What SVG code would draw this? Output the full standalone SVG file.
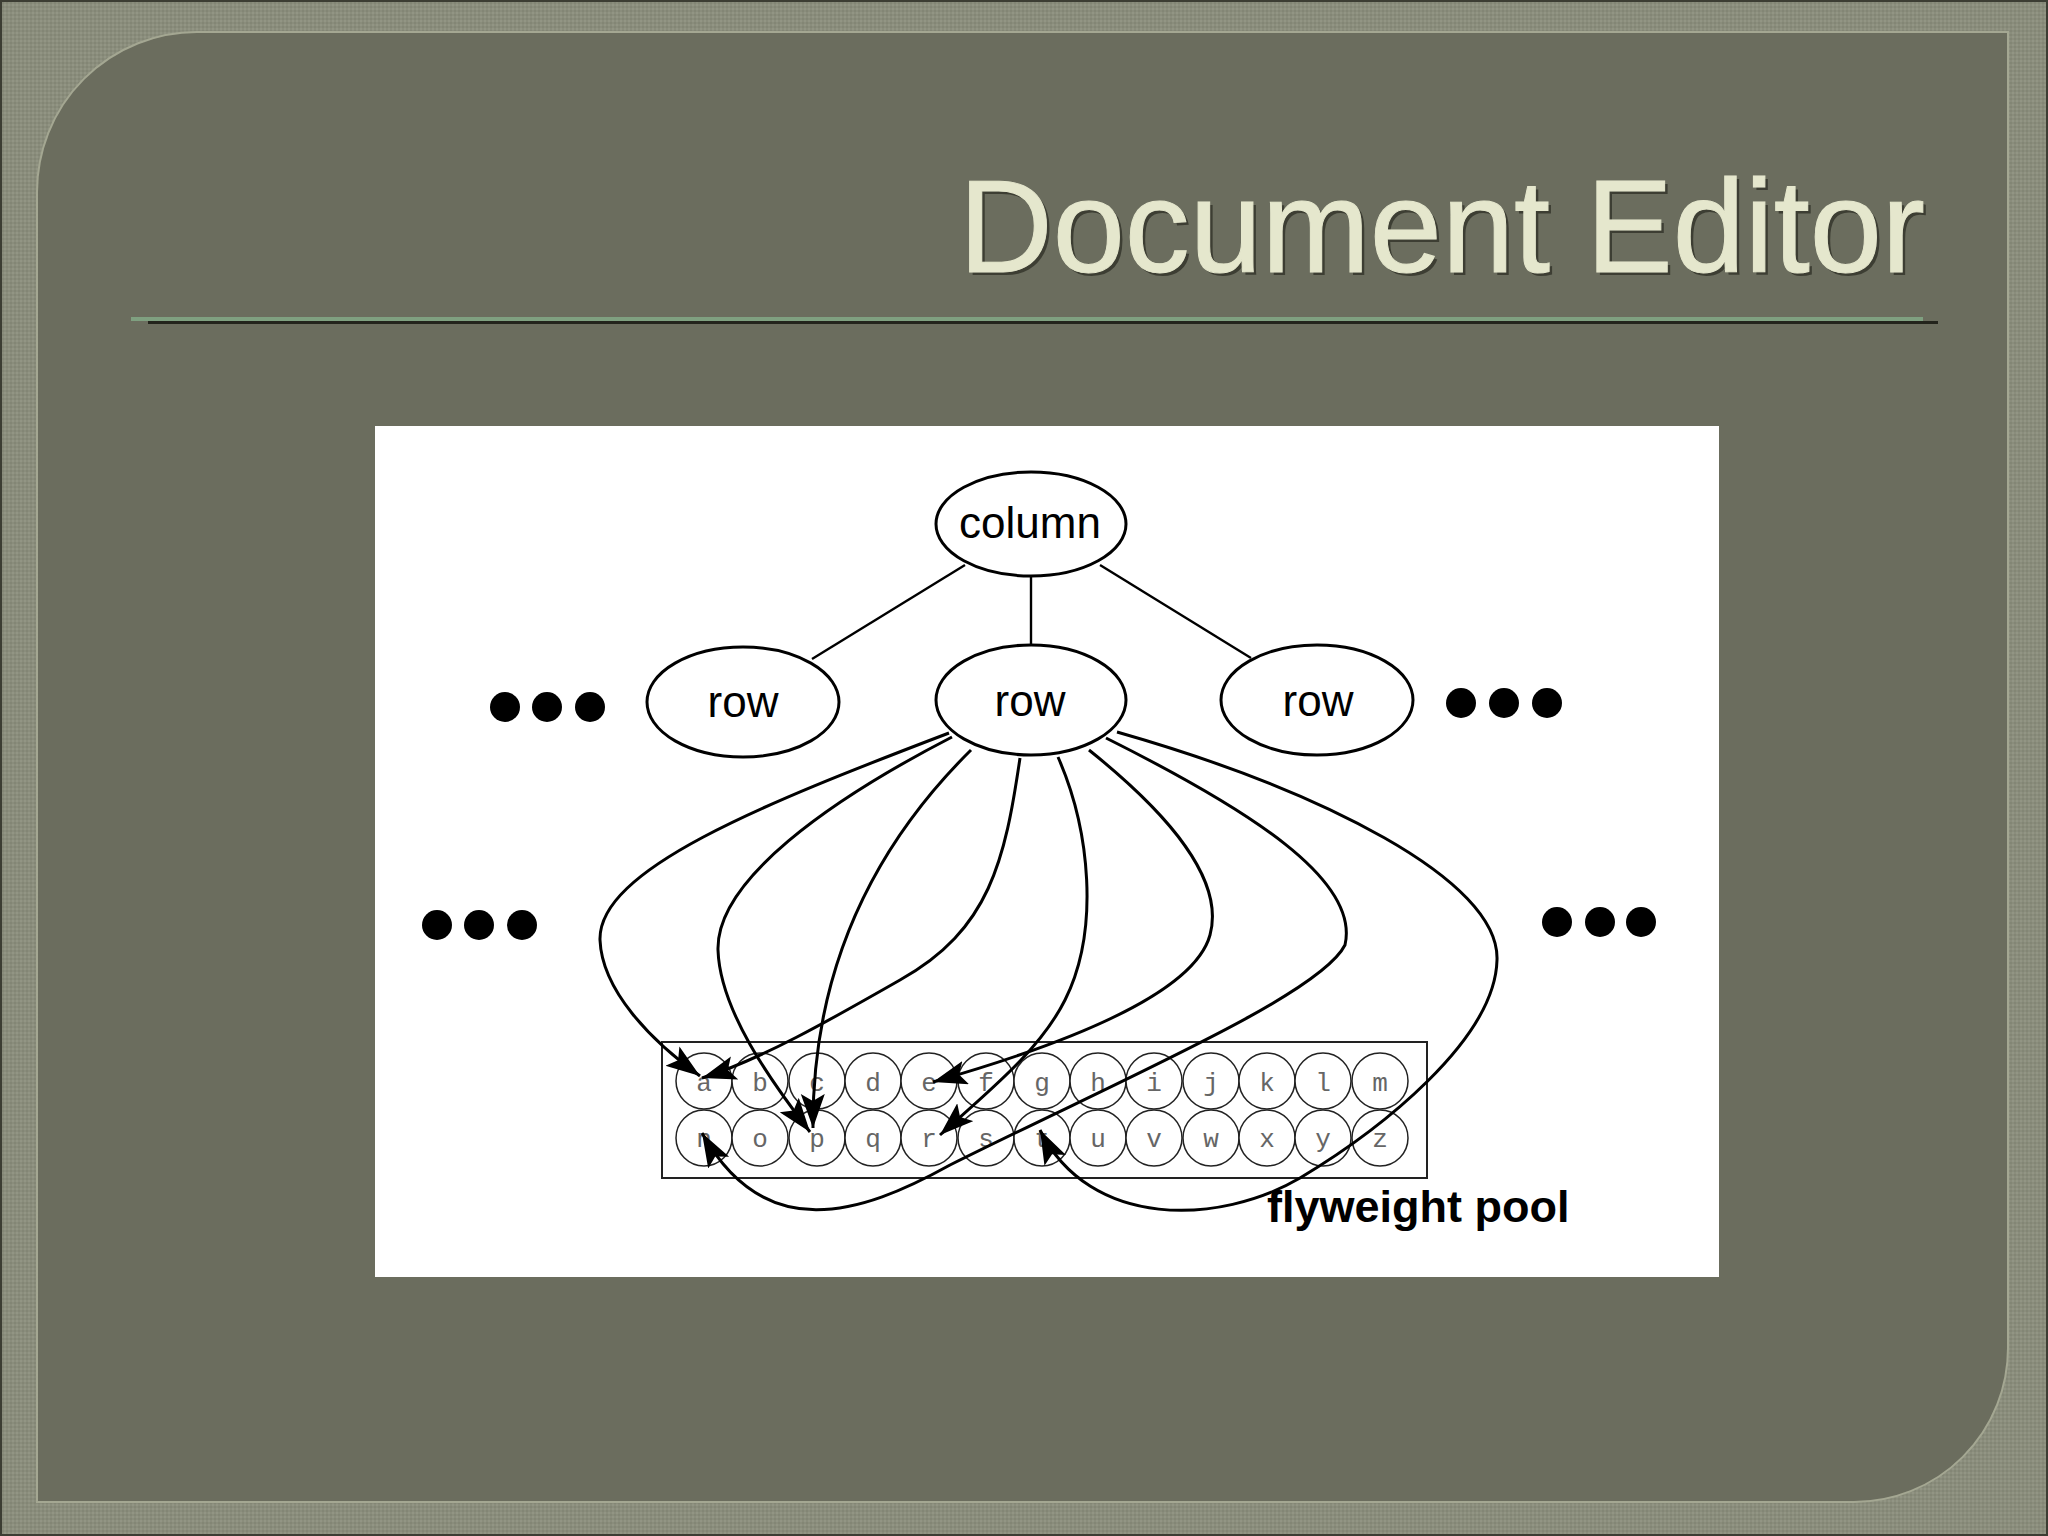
<svg xmlns="http://www.w3.org/2000/svg" width="2048" height="1536" viewBox="0 0 2048 1536">
  <defs>
    <pattern id="tex" x="0" y="0" width="4" height="4" patternUnits="userSpaceOnUse">
      <rect width="4" height="4" fill="#8a8d7c"/>
      <rect width="2" height="2" fill="#929584"/>
      <rect x="2" y="2" width="2" height="2" fill="#838675"/>
    </pattern>
    <marker id="arrow" markerUnits="userSpaceOnUse" markerWidth="38" markerHeight="28" refX="34" refY="12" orient="auto">
      <path d="M0,0 L34,12 L0,24 L7,12 Z" fill="#000"/>
    </marker>
  </defs>
  <style>
    .node { fill: #fff; stroke: #000; stroke-width: 3; }
    .label { font-family: "Liberation Sans", Arial, sans-serif; font-size: 44px; fill: #000; text-anchor: middle; }
    .dot { fill: #000; }
    .edge { fill: none; stroke: #000; stroke-width: 2.4; }
    .curve { fill: none; stroke: #000; stroke-width: 3; marker-end: url(#arrow); }
    .cell { fill: #fff; stroke: #222; stroke-width: 1.5; }
    .glyph { font-family: "Liberation Mono", "Courier New", monospace; font-size: 26px; fill: #666; text-anchor: middle; }
    .title { font-family: "Liberation Sans", Arial, sans-serif; font-size: 131px; }
  </style>

  <!-- slide background -->
  <rect x="0" y="0" width="2048" height="1536" fill="url(#tex)"/>
  <rect x="1" y="1" width="2046" height="1534" fill="none" stroke="#3c3d33" stroke-width="2"/>
  <path d="M37,192 A160,160 0 0 1 197,32 L2008,32 L2008,1348 A154,154 0 0 1 1854,1502 L37,1502 Z" fill="#6b6d5e" stroke="#a4a792" stroke-width="2"/>

  <!-- title -->
  <g id="title">
    <text class="title" x="962" y="275" fill="#2e2f26" fill-opacity="0.75" textLength="966" lengthAdjust="spacingAndGlyphs">Document Editor</text>
    <text class="title" x="959" y="272" fill="#e5e7cd" stroke="#e5e7cd" stroke-width="1" textLength="966" lengthAdjust="spacingAndGlyphs">Document Editor</text>
  </g>
  <g id="rule">
    <rect x="131" y="317" width="1792" height="4" fill="#7fa080"/>
    <rect x="148" y="321" width="1790" height="3" fill="#23241c"/>
  </g>

  <!-- picture -->
  <rect id="picture" x="375" y="426" width="1344" height="851" fill="#fff"/>

  <g id="flyweight-pool">
    <rect x="662" y="1042" width="765" height="136" fill="none" stroke="#222" stroke-width="2"/>
    <g id="pool-row-1">
      <circle class="cell" cx="704" cy="1081" r="28"/><text class="glyph" x="704" y="1091">a</text>
      <circle class="cell" cx="760" cy="1081" r="28"/><text class="glyph" x="760" y="1091">b</text>
      <circle class="cell" cx="817" cy="1081" r="28"/><text class="glyph" x="817" y="1091">c</text>
      <circle class="cell" cx="873" cy="1081" r="28"/><text class="glyph" x="873" y="1091">d</text>
      <circle class="cell" cx="929" cy="1081" r="28"/><text class="glyph" x="929" y="1091">e</text>
      <circle class="cell" cx="986" cy="1081" r="28"/><text class="glyph" x="986" y="1091">f</text>
      <circle class="cell" cx="1042" cy="1081" r="28"/><text class="glyph" x="1042" y="1091">g</text>
      <circle class="cell" cx="1098" cy="1081" r="28"/><text class="glyph" x="1098" y="1091">h</text>
      <circle class="cell" cx="1154" cy="1081" r="28"/><text class="glyph" x="1154" y="1091">i</text>
      <circle class="cell" cx="1211" cy="1081" r="28"/><text class="glyph" x="1211" y="1091">j</text>
      <circle class="cell" cx="1267" cy="1081" r="28"/><text class="glyph" x="1267" y="1091">k</text>
      <circle class="cell" cx="1323" cy="1081" r="28"/><text class="glyph" x="1323" y="1091">l</text>
      <circle class="cell" cx="1380" cy="1081" r="28"/><text class="glyph" x="1380" y="1091">m</text>
    </g>
    <g id="pool-row-2">
      <circle class="cell" cx="704" cy="1138" r="28"/><text class="glyph" x="704" y="1147">n</text>
      <circle class="cell" cx="760" cy="1138" r="28"/><text class="glyph" x="760" y="1147">o</text>
      <circle class="cell" cx="817" cy="1138" r="28"/><text class="glyph" x="817" y="1147">p</text>
      <circle class="cell" cx="873" cy="1138" r="28"/><text class="glyph" x="873" y="1147">q</text>
      <circle class="cell" cx="929" cy="1138" r="28"/><text class="glyph" x="929" y="1147">r</text>
      <circle class="cell" cx="986" cy="1138" r="28"/><text class="glyph" x="986" y="1147">s</text>
      <circle class="cell" cx="1042" cy="1138" r="28"/><text class="glyph" x="1042" y="1147">t</text>
      <circle class="cell" cx="1098" cy="1138" r="28"/><text class="glyph" x="1098" y="1147">u</text>
      <circle class="cell" cx="1154" cy="1138" r="28"/><text class="glyph" x="1154" y="1147">v</text>
      <circle class="cell" cx="1211" cy="1138" r="28"/><text class="glyph" x="1211" y="1147">w</text>
      <circle class="cell" cx="1267" cy="1138" r="28"/><text class="glyph" x="1267" y="1147">x</text>
      <circle class="cell" cx="1323" cy="1138" r="28"/><text class="glyph" x="1323" y="1147">y</text>
      <circle class="cell" cx="1380" cy="1138" r="28"/><text class="glyph" x="1380" y="1147">z</text>
    </g>
  </g>

  <g id="connectors">
    <line class="edge" x1="965" y1="565" x2="812" y2="659"/>
    <line class="edge" x1="1031" y1="577" x2="1031" y2="645"/>
    <line class="edge" x1="1100" y1="565" x2="1251" y2="658"/>
    <!-- row to flyweights -->
    <path class="curve" d="M949,733 C760,805 598,870 600,940 C602,990 650,1040 700,1076"/>
    <path class="curve" d="M952,737 C830,800 716,880 718,950 C720,1010 770,1080 810,1132"/>
    <path class="curve" d="M971,750 C880,840 812,960 813,1128"/>
    <path class="curve" d="M1020,758 C1005,860 990,930 900,980 C830,1020 760,1060 702,1078"/>
    <path class="curve" d="M1058,757 C1090,830 1100,930 1065,1000 C1040,1050 990,1090 940,1135"/>
    <path class="curve" d="M1089,750 C1170,815 1225,880 1210,935 C1195,990 1080,1040 933,1082"/>
    <path class="curve" d="M1106,738 C1250,810 1360,880 1345,945 C1320,995 1120,1080 950,1165 C860,1215 765,1245 702,1133"/>
    <path class="curve" d="M1117,732 C1320,790 1500,880 1497,960 C1495,1040 1380,1130 1300,1178 C1220,1225 1090,1230 1040,1130"/>
  </g>

  <g id="column">
    <ellipse class="node" cx="1031" cy="524" rx="95" ry="52"/>
    <text class="label" x="1030" y="538">column</text>
  </g>
  <g id="row-left">
    <ellipse class="node" cx="743" cy="702" rx="96" ry="55"/>
    <text class="label" x="743" y="717">row</text>
  </g>
  <g id="row-middle">
    <ellipse class="node" cx="1031" cy="700" rx="95" ry="55"/>
    <text class="label" x="1030" y="716">row</text>
  </g>
  <g id="row-right">
    <ellipse class="node" cx="1317" cy="700" rx="96" ry="55"/>
    <text class="label" x="1318" y="716">row</text>
  </g>

  <g id="dots-row-left">
    <circle class="dot" cx="505" cy="707" r="15"/>
    <circle class="dot" cx="547" cy="707" r="15"/>
    <circle class="dot" cx="590" cy="707" r="15"/>
  </g>
  <g id="dots-row-right">
    <circle class="dot" cx="1461" cy="703" r="15"/>
    <circle class="dot" cx="1504" cy="703" r="15"/>
    <circle class="dot" cx="1547" cy="703" r="15"/>
  </g>
  <g id="dots-char-left">
    <circle class="dot" cx="437" cy="925" r="15"/>
    <circle class="dot" cx="479" cy="925" r="15"/>
    <circle class="dot" cx="522" cy="925" r="15"/>
  </g>
  <g id="dots-char-right">
    <circle class="dot" cx="1557" cy="922" r="15"/>
    <circle class="dot" cx="1600" cy="922" r="15"/>
    <circle class="dot" cx="1641" cy="922" r="15"/>
  </g>

  <g id="pool-label">
    <text x="1267" y="1222" font-family="Liberation Sans, Arial, sans-serif" font-weight="bold" font-size="45" fill="#000">flyweight pool</text>
  </g>
</svg>
